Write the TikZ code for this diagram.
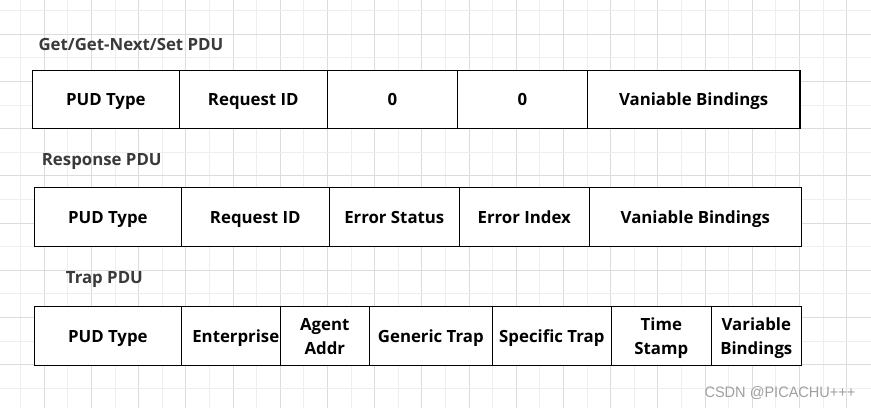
\documentclass[tikz,border=0pt]{standalone}
\usepackage{fontspec}
\usepackage{graphicx}
\setmainfont{Open Sans}
\newfontfamily\wmfont{Liberation Sans}
\definecolor{gridlight}{HTML}{EEEEEE}
\definecolor{griddark}{HTML}{DCDCDC}
\definecolor{titlegray}{HTML}{3A3A3A}
\definecolor{wmgray}{HTML}{A0A0A0}
\tikzset{
  cell/.style={draw=black, line width=1.2pt, fill=white, inner sep=0pt, outer sep=0pt,
    anchor=north west, align=center, text height=13pt, text depth=0pt,
    font=\fontsize{16.8}{24}\selectfont\bfseries},
  twoline/.style={text height=37pt, text depth=0pt},
  pdutitle/.style={anchor=base west, inner sep=0pt, text=titlegray,
    font=\fontsize{16.8}{20}\selectfont\bfseries},
  watermark/.style={anchor=base west, inner sep=0pt, text=wmgray}
}
\begin{document}
\begin{tikzpicture}[x=1pt,y=-1pt]
\useasboundingbox (0,0) rectangle (871,408);
\fill[white] (0,0) rectangle (871,408);
% grid
\foreach \k in {0,...,35}{
  \pgfmathsetmacro\xx{20.7+23.6*\k}
  \ifodd\k \draw[griddark,line width=1pt] (\xx,0) -- (\xx,408);
  \else \draw[gridlight,line width=1pt] (\xx,0) -- (\xx,408); \fi
}
\foreach \k in {0,...,16}{
  \pgfmathsetmacro\yy{10.7+23.6*\k}
  \ifodd\k \draw[griddark,line width=1pt] (0,\yy) -- (871,\yy);
  \else \draw[gridlight,line width=1pt] (0,\yy) -- (871,\yy); \fi
}
% titles
\node[pdutitle] (t1) at (38.3,50) {Get/Get-Next/Set PDU};
\node[pdutitle] (t2) at (41.7,165) {Response PDU};
\node[pdutitle] (t3) at (65.7,283) {Trap PDU};
% row 1
\node[cell, minimum width=147pt, minimum height=58pt] (a1) at (32.3,70.3) {PUD Type};
\node[cell, minimum width=148pt, minimum height=58pt] (a2) at (179.3,70.3) {Request ID};
\node[cell, minimum width=130pt, minimum height=58pt] (a3) at (327.3,70.3) {0};
\node[cell, minimum width=130pt, minimum height=58pt] (a4) at (457.3,70.3) {0};
\node[cell, minimum width=212.7pt, minimum height=58pt] (a5) at (587.3,70.3) {Vaniable Bindings};
% row 2
\node[cell, minimum width=147pt, minimum height=59pt] (b1) at (34.3,187.3) {PUD Type};
\node[cell, minimum width=148pt, minimum height=59pt] (b2) at (181.3,187.3) {Request ID};
\node[cell, minimum width=130pt, minimum height=59pt] (b3) at (329.3,187.3) {Error Status};
\node[cell, minimum width=130pt, minimum height=59pt] (b4) at (459.3,187.3) {Error Index};
\node[cell, minimum width=212pt, minimum height=59pt] (b5) at (589.3,187.3) {Vaniable Bindings};
% row 3
\node[cell, minimum width=147pt, minimum height=59pt] (c1) at (34.3,306.3) {PUD Type};
\node[cell, minimum width=99pt, minimum height=59pt] (c2) at (181.3,306.3) {\hspace*{10pt}Enterprise};
\node[cell, twoline, minimum width=89pt, minimum height=59pt] (c3) at (280.3,306.3) {Agent\\Addr};
\node[cell, minimum width=123pt, minimum height=59pt] (c4) at (369.3,306.3) {Generic Trap};
\node[cell, minimum width=119pt, minimum height=59pt] (c5) at (492.3,306.3) {Specific Trap};
\node[cell, twoline, minimum width=100pt, minimum height=59pt] (c6) at (611.3,306.3) {Time\\Stamp};
\node[cell, twoline, minimum width=90pt, minimum height=59pt] (c7) at (711.3,306.3) {Variable\\Bindings};
% watermark
\node[watermark] (wm) at (704.3,397.3) {\resizebox{151pt}{11pt}{\wmfont CSDN @PICACHU+++}};
\end{tikzpicture}
\end{document}
